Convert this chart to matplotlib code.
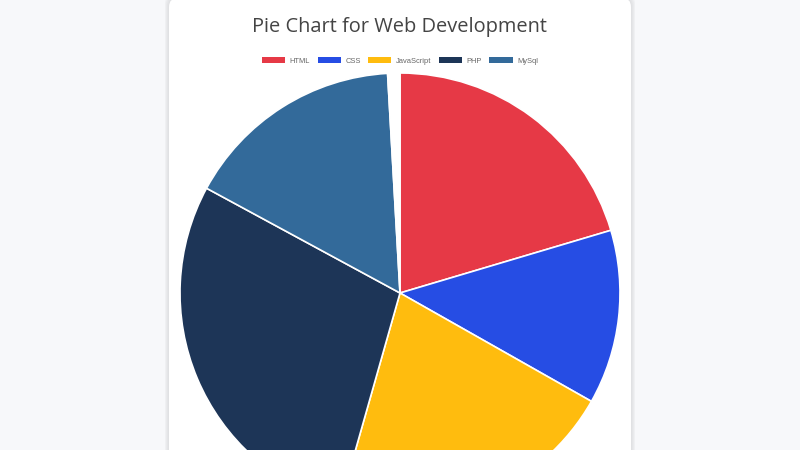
import matplotlib.pyplot as plt
from matplotlib.patches import FancyBboxPatch

# slice values (share of the pie, %)
labels = ['HTML', 'CSS', 'JavaScript', 'PHP', 'MySql']
values = [20.4, 12.8, 21.2, 28.5, 16.2]
rest = 0.9  # small empty slice between MySql and HTML
colors = ['#e63946', '#264de4', '#ffbc0e', '#1d3557', '#336a9a']

W, H = 800, 450
fig = plt.figure(figsize=(8, 4.5), dpi=100, facecolor='#f7f8fa')
ax = fig.add_axes([0, 0, 1, 1])
ax.set_xlim(0, W)
ax.set_ylim(0, H)
ax.set_aspect('equal')
ax.axis('off')

# card with a soft shadow
for i, a in enumerate([0.03, 0.025, 0.02, 0.015]):
    pad = 4 - i
    ax.add_patch(FancyBboxPatch((169 - pad, -20 - pad), 462 + 2 * pad, H + 22 + 2 * pad,
                                boxstyle='round,pad=0,rounding_size=10',
                                fc='black', ec='none', alpha=a, zorder=0))
ax.add_patch(FancyBboxPatch((169, -20), 462, H + 22,
                            boxstyle='round,pad=0,rounding_size=9',
                            fc='white', ec='none', zorder=1))

wedges, _ = ax.pie(values + [rest], colors=colors + ['white'],
                   center=(400, H - 293), radius=220,
                   startangle=90, counterclock=False,
                   wedgeprops={'edgecolor': 'white', 'linewidth': 1.2})
for w in wedges:
    w.set_zorder(2)
ax.set_xlim(0, W)
ax.set_ylim(0, H)

fig.text(0.5, 1 - 27 / H, 'Pie Chart for Web Development', ha='center', va='center',
         fontsize=14.4, color='#444444', family='Open Sans')

leg = ax.legend(wedges[:5], labels, loc='center', bbox_to_anchor=(400 / W, 1 - 61 / H),
                ncol=5, frameon=False, prop={'family': 'Liberation Sans', 'size': 5.4},
                labelcolor='#666666', handlelength=3.1, handleheight=0.9,
                handletextpad=0.6, columnspacing=1.0, borderaxespad=0)
for h in leg.legend_handles:
    h.set_edgecolor('none')

fig.savefig('out.png', dpi=100, facecolor=fig.get_facecolor())
